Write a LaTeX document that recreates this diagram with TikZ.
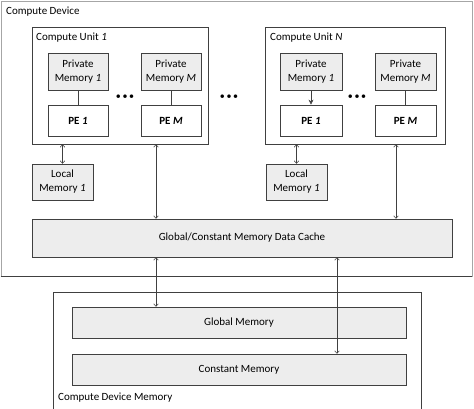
\documentclass[tikz,border=0pt]{standalone}
\usepackage{fontspec}
\setmainfont{Carlito}
\usetikzlibrary{arrows.meta}
\tikzset{
  box/.style={draw=black!75, line width=0.7pt, inner sep=0pt, align=center},
  membox/.style={box, fill=black!7},
  pebox/.style={box, fill=white, font=\fontsize{11}{14}\selectfont\bfseries},
  unitbox/.style={box, fill=white},
  dots/.style={inner sep=0pt, font=\fontsize{10}{10}\selectfont},
  link/.style={black!75, line width=0.6pt},
}
\begin{document}
\begin{tikzpicture}[x=1pt, y=-1pt, >={To[length=3pt,width=5pt]}, font=\fontsize{11}{14}\selectfont]
\useasboundingbox (0,0) rectangle (474,409);
% compute device
\node[draw=black!35, line width=0.8pt, minimum width=471pt, minimum height=275pt, inner sep=0pt] (device) at (236.5,138.5) {};
\draw[black!75, line width=0.8pt] (device.south west) -- (device.south east);
\node[anchor=west, inner sep=0pt] (devlabel) at (6,12) {Compute Device};
% compute unit 1
\node[unitbox, minimum width=176pt, minimum height=117pt] (cu1) at (120,85.5) {};
\node[anchor=west, inner sep=0pt] (cu1label) at (36,38) {Compute Unit \textit{1}};
\node[membox, minimum width=60pt, minimum height=37pt] (pm11) at (78,71.5) {Private\\Memory \textit{1}};
\node[membox, minimum width=60pt, minimum height=37pt] (pm1m) at (171,71.5) {Private\\Memory \textit{M}};
\node[pebox, minimum width=60pt, minimum height=31pt] (pe11) at (78,120.5) {PE \textit{1}};
\node[pebox, minimum width=60pt, minimum height=31pt] (pe1m) at (171,120.5) {PE \textit{M}};
\draw[link] (pm11) -- (pe11);
\draw[link] (pm1m) -- (pe1m);
\node[dots] (dots1) at (125,97) {\textbullet\,\textbullet\,\textbullet};
\node[dots] (dotsmid) at (229,97) {\textbullet\,\textbullet\,\textbullet};
% compute unit N
\node[unitbox, minimum width=180pt, minimum height=117pt] (cun) at (355,85.5) {};
\node[anchor=west, inner sep=0pt] (cunlabel) at (270,38) {Compute Unit \textit{N}};
\node[membox, minimum width=62pt, minimum height=37pt] (pmn1) at (311,71.5) {Private\\Memory \textit{1}};
\node[membox, minimum width=61pt, minimum height=37pt] (pmnm) at (405.5,71.5) {Private\\Memory \textit{M}};
\node[pebox, minimum width=62pt, minimum height=31pt] (pen1) at (311,120.5) {PE \textit{1}};
\node[pebox, minimum width=61pt, minimum height=31pt] (penm) at (405.5,120.5) {PE \textit{M}};
\draw[link, -{Stealth[length=5pt,width=5pt]}] (pmn1) -- (pen1);
\draw[link] (pmnm) -- (penm);
\node[dots] (dotsn) at (357,97) {\textbullet\,\textbullet\,\textbullet};
% local memories
\node[membox, minimum width=61pt, minimum height=36pt] (lm1) at (62.5,182) {Local\\Memory \textit{1}};
\node[membox, minimum width=61pt, minimum height=36pt] (lmn) at (296.5,182) {Local\\Memory \textit{1}};
% cache
\node[membox, minimum width=420pt, minimum height=38pt] (cache) at (242,238) {Global/Constant Memory Data Cache};
\draw[link, <->] (lm1.north) -- (lm1.north |- cu1.south);
\draw[link, <->] (lmn.north) -- (lmn.north |- cun.south);
\draw[link, <->] ([xshift=36pt]cu1.south) -- ([xshift=36pt]cu1.south |- cache.north);
\draw[link, <->] ([xshift=41pt]cun.south) -- ([xshift=41pt]cun.south |- cache.north);
% compute device memory
\node[box, minimum width=368pt, minimum height=128pt] (devmem) at (237,356) {};
\node[anchor=west, inner sep=0pt] (devmemlabel) at (58,398) {Compute Device Memory};
\node[membox, minimum width=334pt, minimum height=31pt] (global) at (239,322.5) {Global Memory};
\node[membox, minimum width=334pt, minimum height=31pt] (const) at (239,369.5) {Constant Memory};
\draw[link, <->] ([xshift=-86pt]cache.south) -- ([xshift=-86pt]cache.south |- global.north);
\draw[link, <->] ([xshift=95pt]cache.south) -- ([xshift=95pt]cache.south |- const.north);
\end{tikzpicture}
\end{document}
